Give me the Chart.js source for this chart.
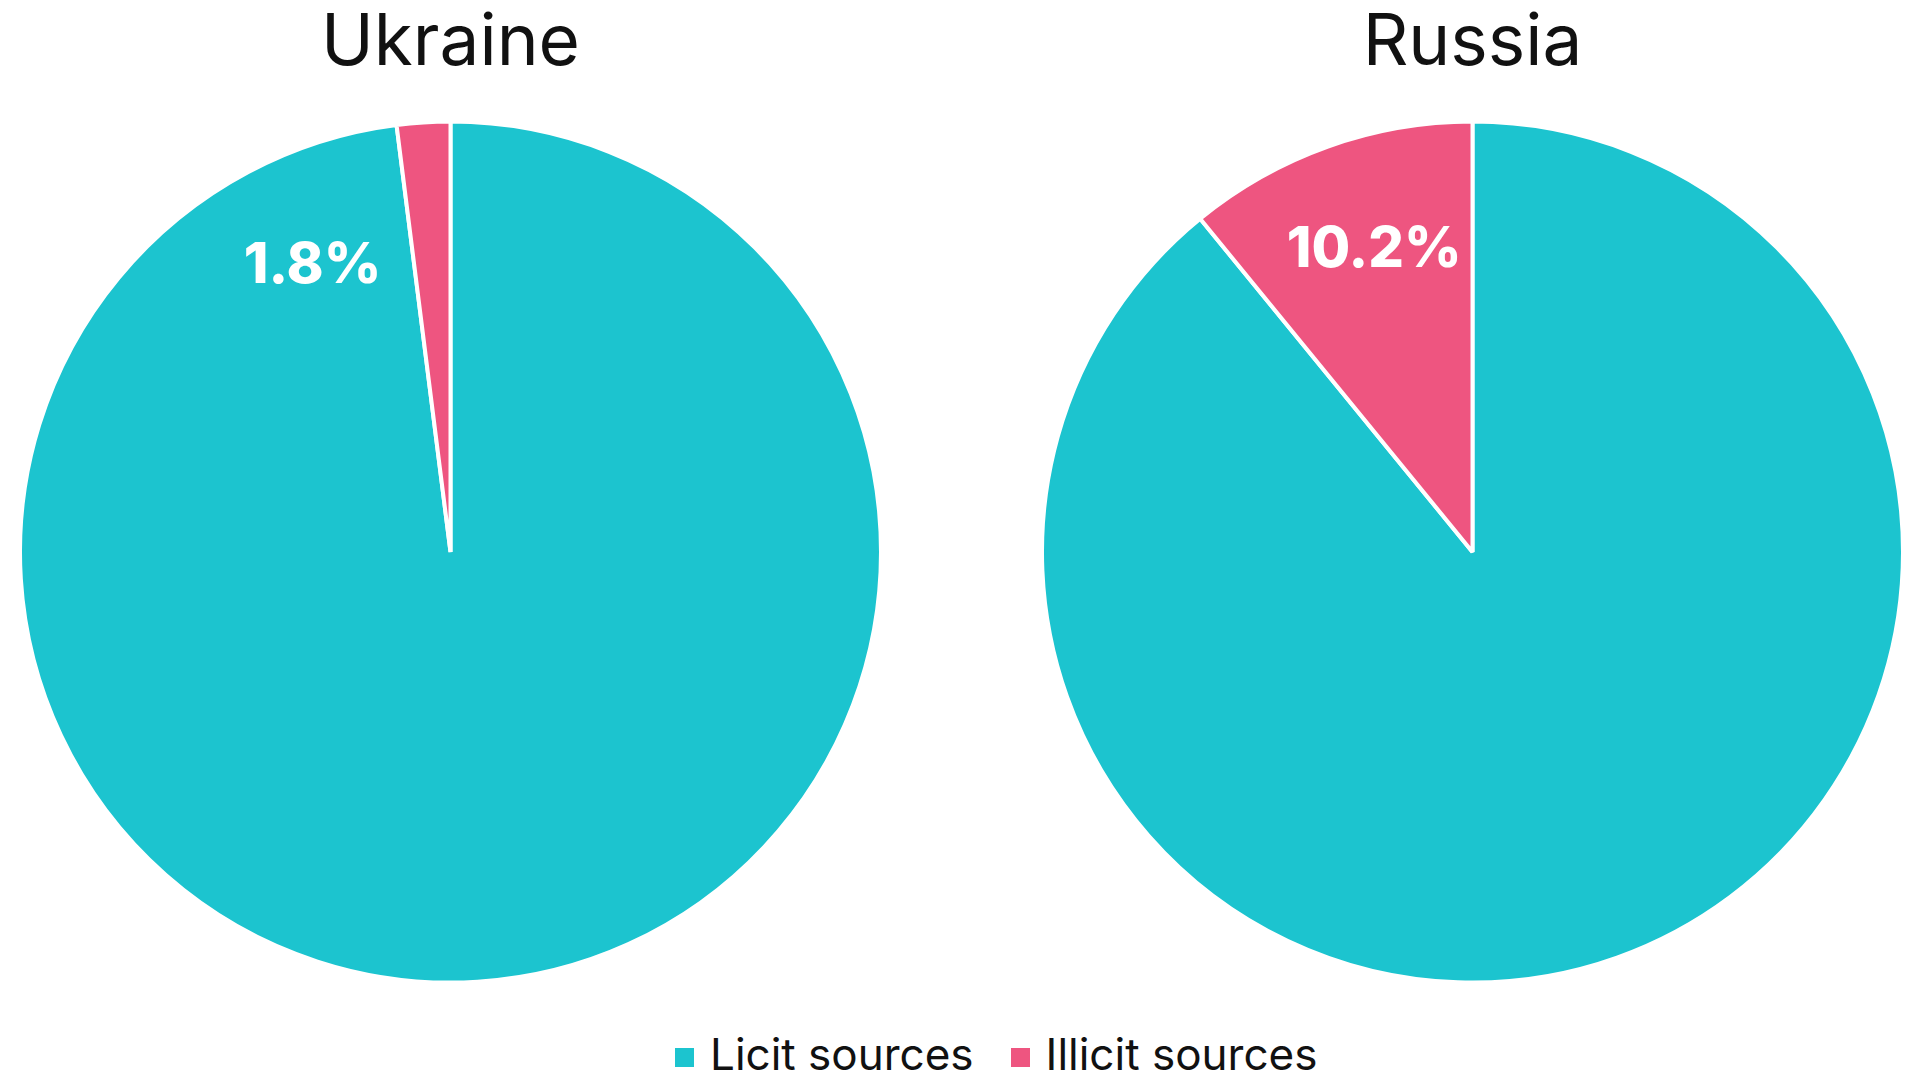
<!DOCTYPE html>
<html>
<head>
<meta charset="utf-8">
<script src="https://cdn.jsdelivr.net/npm/chart.js@4"></script>
<style>
  html, body { margin: 0; padding: 0; background: #fff; width: 1920px; height: 1085px; overflow: hidden; }
  canvas { position: absolute; top: 0; }
  #left { left: 18px; }
  #right { left: 1040px; }
  #legend { position: absolute; left: 675px; top: 1027px; font-family: Inter, sans-serif; font-size: 44px; color: #111; display: flex; align-items: center; white-space: nowrap; }
  #legend .item { display: flex; align-items: center; margin-right: 37px; }
  #legend .box { width: 19px; height: 19px; margin-right: 16px; margin-top: 6px; }
</style>
</head>
<body>
<canvas id="left" width="865" height="985"></canvas>
<canvas id="right" width="865" height="985"></canvas>
<div id="legend"></div>
<script>
// Data (slice shares as drawn, and the printed labels)
var categories = ['Licit sources', 'Illicit sources'];
var colors = ['#1CC4CF', '#EE5580'];
var ukraineValues = [98.0, 2.0];
var russiaValues = [89.1, 10.9];
var ukraineLabel = '1.8%';
var russiaLabel = '10.2%';

// white bold percentage on the illicit slice
var sliceLabel = {
    id: 'sliceLabel',
    afterDatasetsDraw: function (chart, args, opts) {
        var arc = chart.getDatasetMeta(0).data[1];
        var p = arc.getProps(['x', 'y', 'startAngle', 'endAngle', 'outerRadius'], true);
        var span = p.endAngle - p.startAngle;
        // a thin slice can't hold its label, so place it further round
        if (span < 15 * Math.PI / 180) span = 56 * Math.PI / 180;
        var ang = p.endAngle - span * 0.46;
        var r = p.outerRadius * 0.737;
        var c = chart.ctx;
        c.save();
        c.fillStyle = '#fff';
        c.font = '800 56px Inter, sans-serif';
        c.textAlign = 'center';
        c.textBaseline = 'middle';
        c.fillText(opts.text, p.x + Math.cos(ang) * r, p.y + Math.sin(ang) * r);
        c.restore();
    }
};

function makePie(id, title, values, label) {
    return new Chart(document.getElementById(id), {
        type: 'pie',
        data: {
            labels: categories,
            datasets: [{
                data: values,
                backgroundColor: colors,
                borderColor: '#fff',
                borderWidth: 4
            }]
        },
        options: {
            responsive: false,
            animation: false,
            devicePixelRatio: 1,
            layout: { padding: 0 },
            plugins: {
                legend: { display: false },
                tooltip: { enabled: false },
                sliceLabel: { text: label },
                title: {
                    display: true,
                    text: title,
                    color: '#111',
                    font: { family: 'Inter, sans-serif', size: 71, weight: 'normal', lineHeight: 1.2 },
                    padding: { top: 1, bottom: 33 }
                }
            }
        },
        plugins: [sliceLabel]
    });
}

var ukraine = makePie('left', 'Ukraine', ukraineValues, ukraineLabel);
var russia = makePie('right', 'Russia', russiaValues, russiaLabel);

// shared legend built from the chart's own legend items
var legendEl = document.getElementById('legend');
ukraine.options.plugins.legend.labels.generateLabels(ukraine).forEach(function (item) {
    var d = document.createElement('div');
    d.className = 'item';
    var b = document.createElement('span');
    b.className = 'box';
    b.style.background = item.fillStyle;
    var t = document.createElement('span');
    t.textContent = item.text;
    d.appendChild(b);
    d.appendChild(t);
    legendEl.appendChild(d);
});
</script>
</body>
</html>
